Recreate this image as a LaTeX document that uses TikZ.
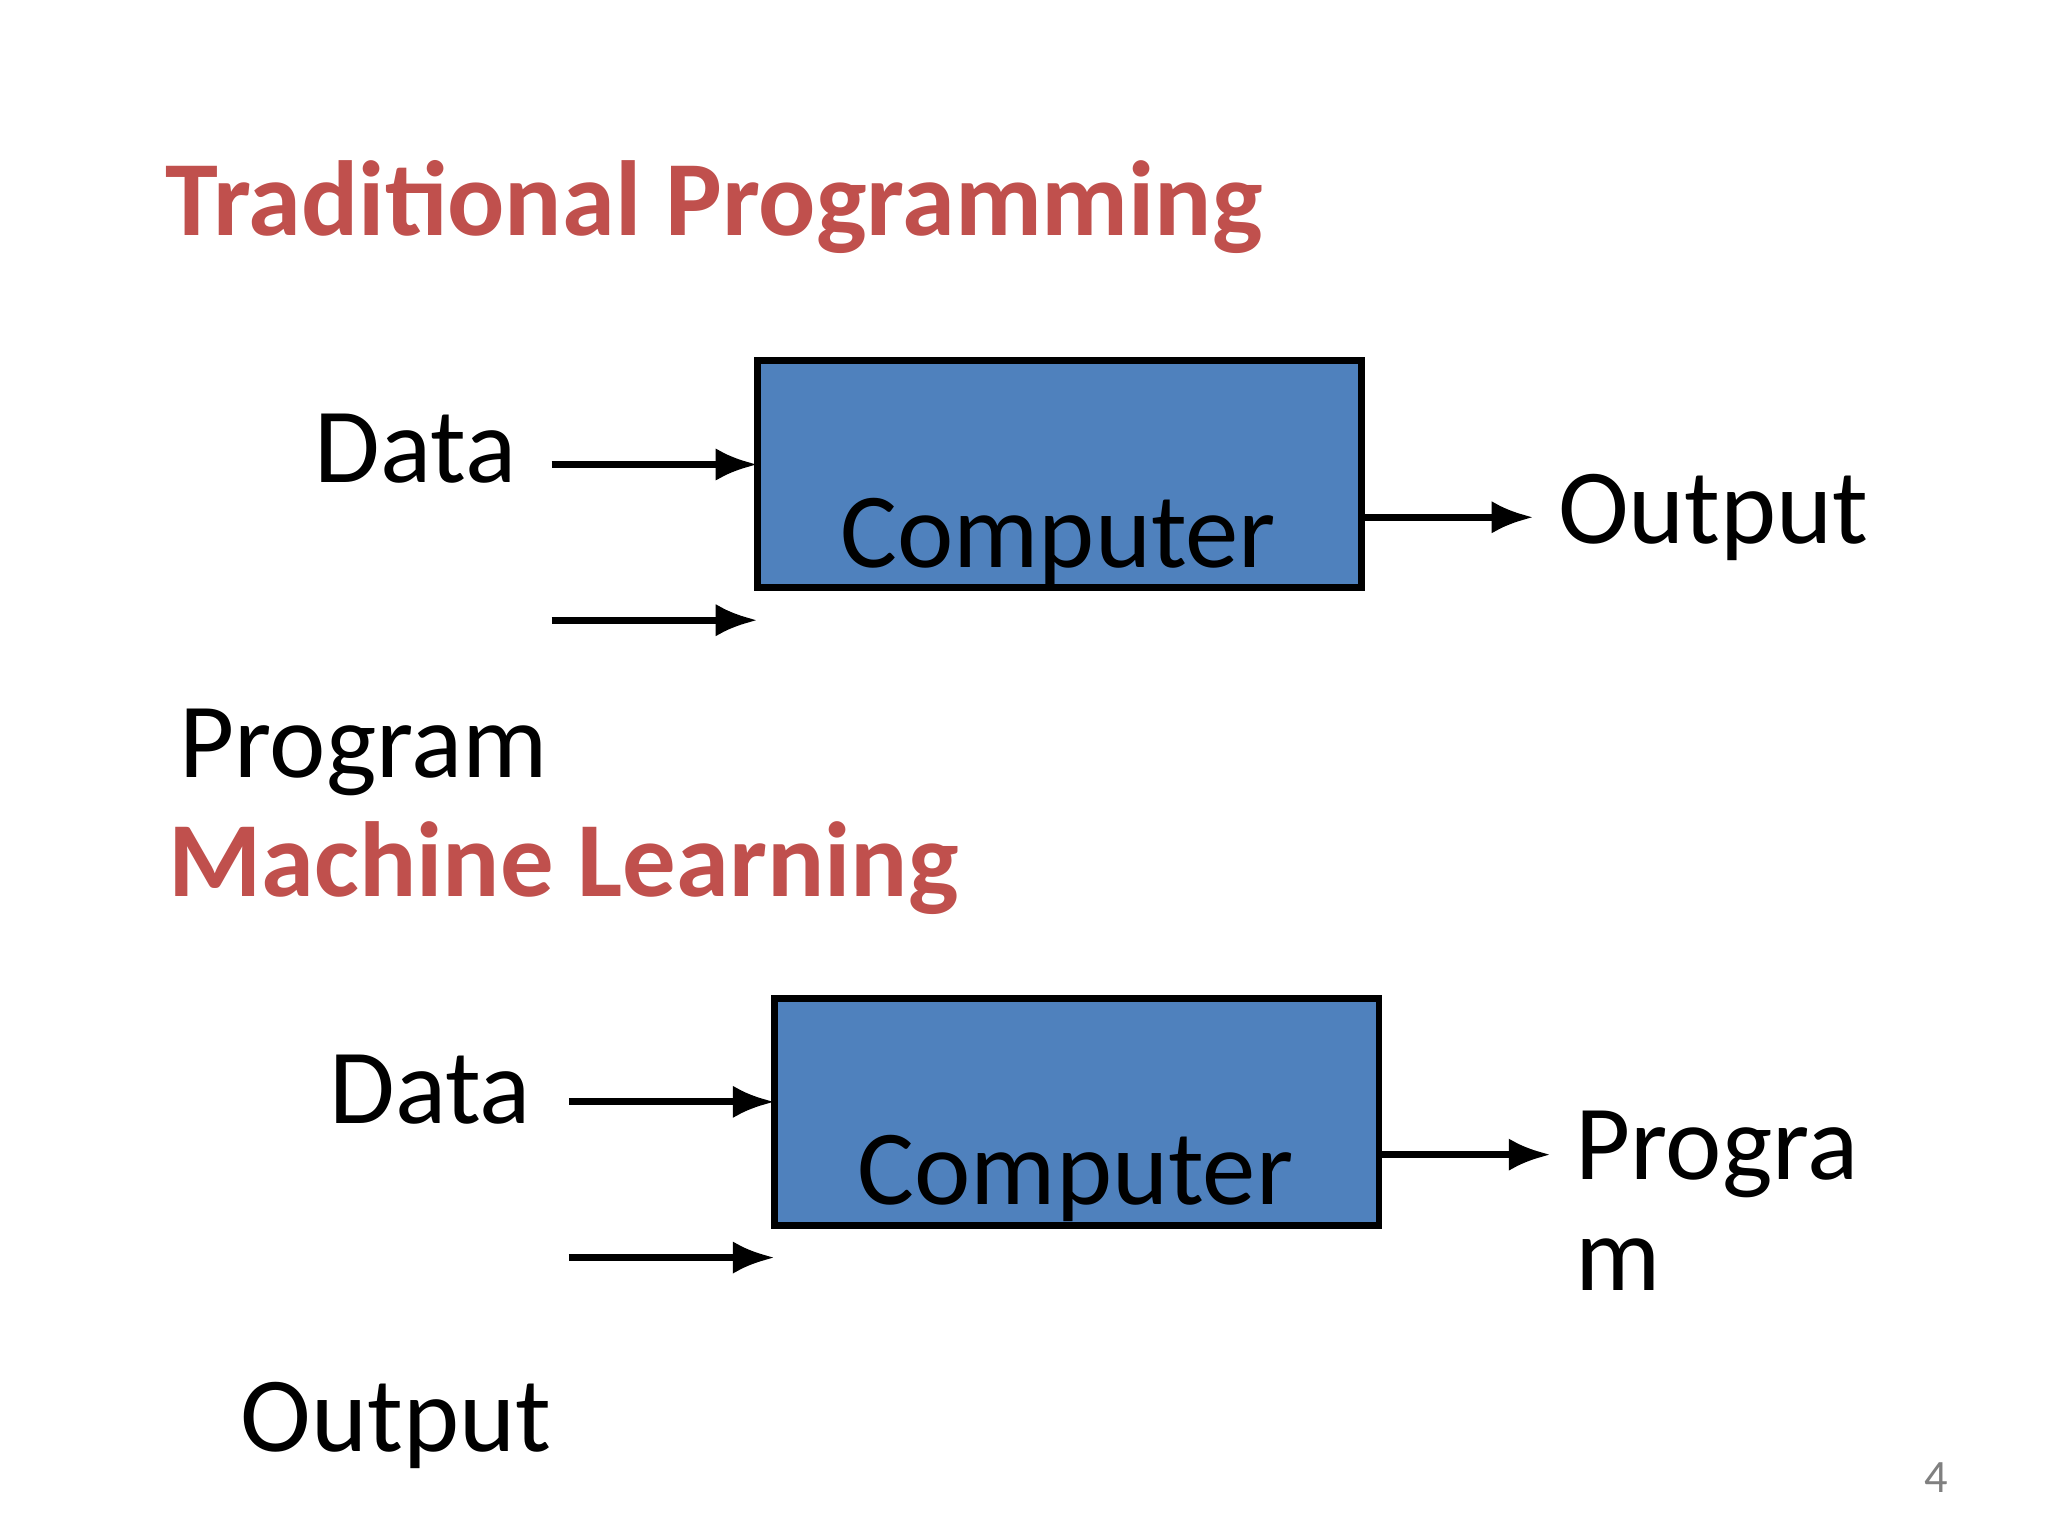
\documentclass[tikz,border=0pt]{standalone}
\usepackage{fontspec}
\setmainfont{Carlito}
\usetikzlibrary{arrows.meta}
\definecolor{boxblue}{HTML}{4F81BD}
\definecolor{titlered}{HTML}{C0504D}
\begin{document}
\begin{tikzpicture}[x=0.01cm,y=-0.01cm,
  cbox/.style={draw=black,line width=1.5pt,fill=boxblue},
  arr/.style={line width=1.5pt,-{Latex[length=9pt,width=7pt]}},
  lbl/.style={font=\fontsize{23}{27}\selectfont,inner sep=0pt},
  ttl/.style={font=\fontsize{23}{27}\selectfont\bfseries,text=titlered,inner sep=0pt,anchor=west}]
\useasboundingbox[fill=white] (0,0) rectangle (1552,1164);
% Traditional
\node[ttl] (t1) at (125,157) {Traditional Programming};
\draw[cbox] (574,273) rectangle (1032,445);
\coordinate (b1l1) at (574,352); \coordinate (b1l2) at (574,470); \coordinate (b1r) at (1032,392);
\coordinate (s1a) at (418,352); \coordinate (s1b) at (418,470); \coordinate (e1) at (1162,392);
\node[lbl] (c1) at (802,410) {Computer};
\node[lbl] (d1) at (315,340) {Data};
\node[lbl,anchor=west] (o1) at (1180,392) {Output};
\node[lbl,anchor=west] (p1) at (135,570) {Program};
\draw[arr] (s1a) -- (b1l1);
\draw[arr] (s1b) -- (b1l2);
\draw[arr] (b1r) -- (e1);
% Machine learning
\node[ttl] (t2) at (127,658) {Machine Learning};
\draw[cbox] (587,757) rectangle (1045,929);
\coordinate (b2l1) at (587,835); \coordinate (b2l2) at (587,953); \coordinate (b2r) at (1045,875);
\coordinate (s2a) at (431,835); \coordinate (s2b) at (431,953); \coordinate (e2) at (1175,875);
\node[lbl] (c2) at (815,893) {Computer};
\node[lbl] (d2) at (326,826) {Data};
\node[lbl,anchor=west] (p2a) at (1193,875) {Progra};
\node[lbl,anchor=west] (p2b) at (1193,958) {m};
\node[lbl] (o2) at (300,1080) {Output};
\draw[arr] (s2a) -- (b2l1);
\draw[arr] (s2b) -- (b2l2);
\draw[arr] (b2r) -- (e2);
\node[font=\fontsize{10}{12}\selectfont,text=gray] (pg) at (1467,1120) {4};
\end{tikzpicture}
\end{document}
